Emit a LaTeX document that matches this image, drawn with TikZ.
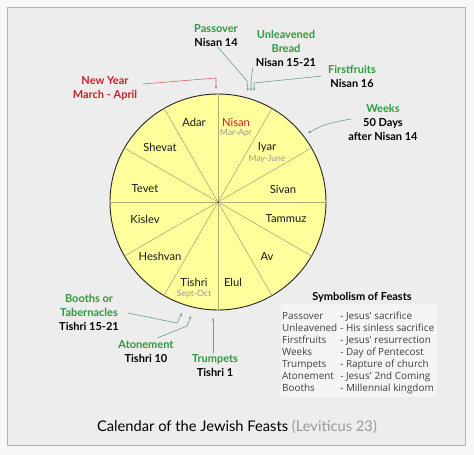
\documentclass[tikz,border=0pt]{standalone}
\usepackage{fontspec}
\setmainfont{Lato}
\newfontfamily\listfont{Open Sans}
\usepackage{xcolor}
\usetikzlibrary{calc, arrows.meta}
\definecolor{feastGreen}{HTML}{2E9A40}
\definecolor{yearRed}{HTML}{C8202E}
\definecolor{leadColor}{HTML}{6E9E88}
\definecolor{wheelFill}{HTML}{FFFF9C}
\definecolor{spokeColor}{HTML}{B4AC6E}
\definecolor{paleGray}{HTML}{9A9A9A}

\begin{document}
\begin{tikzpicture}[x=1pt, y=-1pt,
    month/.style={font=\fontsize{11.2}{13}\selectfont, text=black!90},
    sub/.style={font=\fontsize{8.6}{10}\selectfont, text=paleGray},
    feast/.style={font=\fontsize{11}{14}\selectfont\bfseries, align=center, inner sep=1pt},
    lead/.style={leadColor, line width=0.6pt, -{Stealth[length=3pt, width=2.4pt]}}]
    % page and frame
    \fill[gray!6] (0,0) rectangle (474,455);
    \filldraw[fill=gray!14, draw=gray!60, line width=0.7pt] (7,7) rectangle (465,445);
    \useasboundingbox (0,0) rectangle (474,455);

    % the wheel of months
    \coordinate (C) at (218,202);
    \filldraw[fill=wheelFill, draw=black!85, line width=0.9pt] (C) circle[radius=108pt];
    \foreach \a in {0,30,...,150}
        \draw[spokeColor, line width=0.6pt] ($(C)+(\a:108pt)$) -- ($(C)+(\a+180:108pt)$);
    \fill[black!70] (C) circle (1pt);

    \node[month, text=yearRed] (nisan) at (236,122) {Nisan};
    \node[sub] at (236,133) {Mar-Apr};
    \node[month] (adar) at (194,122) {Adar};
    \node[month] (iyar) at (267,147) {Iyar};
    \node[sub] at (267,159) {May-June};
    \node[month] (shevat) at (160,147) {Shevat};
    \node[month] (tevet) at (145,189) {Tevet};
    \node[month] (sivan) at (283,189) {Sivan};
    \node[month] (kislev) at (145,219) {Kislev};
    \node[month] (tammuz) at (286,219) {Tammuz};
    \node[month] (heshvan) at (160,256) {Heshvan};
    \node[month] (av) at (267,256) {Av};
    \node[month] (tishri) at (194,282) {Tishri};
    \node[sub] at (194,294) {Sept-Oct};
    \node[month] (elul) at (233,282) {Elul};

    % feasts round the wheel
    \node[feast, text=yearRed] (newyear) at (105,88) {New Year\\March - April};
    \node[feast] (passover) at (216,36) {\textcolor{feastGreen}{Passover}\\Nisan 14};
    \node[feast] (unleavened) at (286,48) {\textcolor{feastGreen}{Unleavened}\\\textcolor{feastGreen}{Bread}\\Nisan 15-21};
    \node[feast] (firstfruits) at (352,76) {\textcolor{feastGreen}{Firstfruits}\\Nisan 16};
    \node[feast] (weeks) at (383,122) {\textcolor{feastGreen}{Weeks}\\50 Days\\after Nisan 14};
    \node[feast] (booths) at (89,312) {\textcolor{feastGreen}{Booths or}\\\textcolor{feastGreen}{Tabernacles}\\Tishri 15-21};
    \node[feast] (atonement) at (146,352) {\textcolor{feastGreen}{Atonement}\\Tishri 10};
    \node[feast] (trumpets) at (215,366) {\textcolor{feastGreen}{Trumpets}\\Tishri 1};

    \coordinate (nyTip) at (216,89);
    \coordinate (paTip) at (248,91);
    \coordinate (ubTip) at (251,91);
    \coordinate (ffTip) at (254,91);
    \coordinate (wkTip) at (308,133);
    \coordinate (boTip) at (182,313);
    \coordinate (atTip) at (191,316);
    \coordinate (trTip) at (213,318);

    \draw[yearRed!70, line width=0.6pt, -{Stealth[length=3pt, width=2.4pt]}]
        (143,84) -- (216,78) -- (nyTip);
    \draw[lead] (passover.south) ++(2,-1) -- (247,81) -- (paTip);
    \draw[lead] (unleavened.south west) ++(-2,0) -- (251,82) -- (ubTip);
    \draw[lead] (firstfruits.west) ++(-5,0) -- (254,83) -- (ffTip);
    \draw[lead] (351,119) .. controls (325,124) .. (wkTip);
    \draw[lead] (128,313) -- (177,323) -- (boTip);
    \draw[lead] (atonement.north east) ++(-17,-2) -- (187,326) -- (atTip);
    \draw[lead] (trumpets.north) ++(-2,-1) -- (trTip);

    % meaning of each feast
    \node[font=\fontsize{11}{12}\selectfont\bfseries] (symtitle) at (362,297) {Symbolism of Feasts};
    \fill[gray!8] (281,304) rectangle (437,397);
    \node[anchor=north west, inner sep=0pt, text=black!75, font=\listfont\fontsize{9.9}{12}\selectfont] (symlist) at (282,311) {%
        \begin{tabular}{@{}l@{\hspace{3pt}}l@{}}
        Passover & - Jesus' sacrifice\\
        Unleavened & - His sinless sacrifice\\
        Firstfruits & - Jesus' resurrection\\
        Weeks & - Day of Pentecost\\
        Trumpets & - Rapture of church\\
        Atonement & - Jesus' 2nd Coming\\
        Booths & - Millennial kingdom
        \end{tabular}};

    \node[font=\fontsize{14.7}{16}\selectfont] (caption) at (237,427)
        {Calendar of the Jewish Feasts \textcolor{paleGray}{(Leviticus 23)}};
\end{tikzpicture}
\end{document}
